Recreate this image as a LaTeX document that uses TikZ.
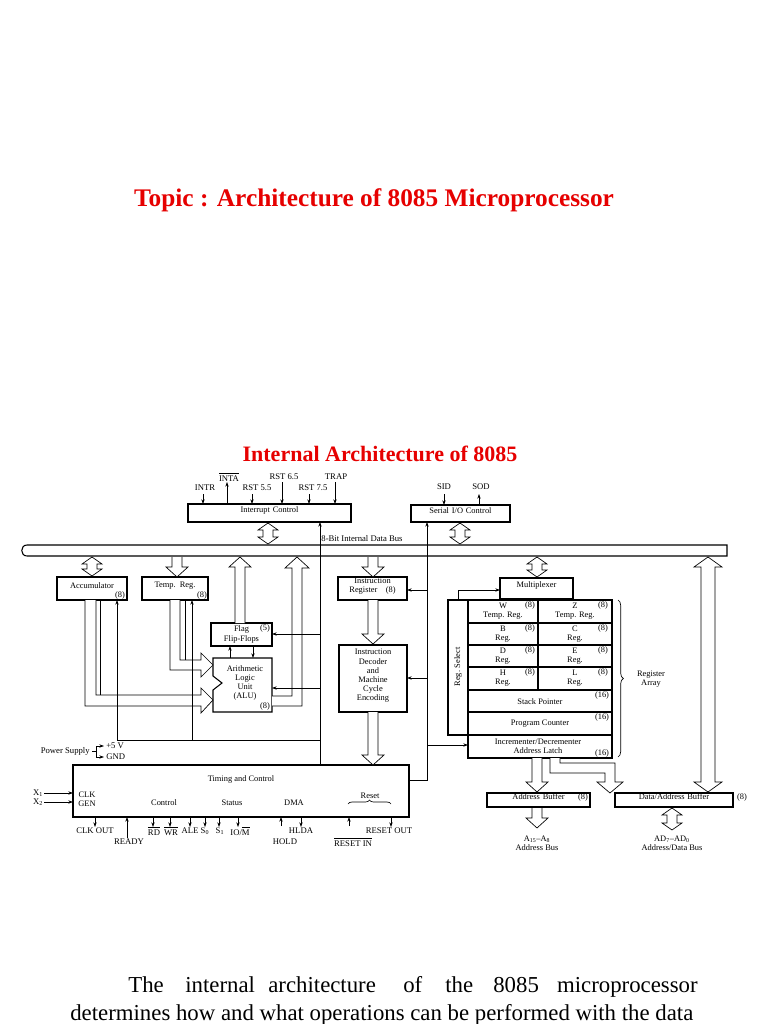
\documentclass[tikz,border=0pt]{standalone}
\usepackage{fontspec}
\setmainfont{Liberation Serif}
\usetikzlibrary{fit,arrows.meta,decorations.pathreplacing}
\definecolor{tred}{RGB}{230,0,0}
\newcommand\HDn[3]{\draw[fill=white] ({#1-5},#2) -- ({#1-5},{#3-10}) -- ({#1-11},{#3-10}) -- (#1,#3) -- ({#1+11},{#3-10}) -- ({#1+5},{#3-10}) -- ({#1+5},#2);}
\newcommand\HUp[3]{\draw[fill=white] ({#1-5},#2) -- ({#1-5},{#3+10}) -- ({#1-11},{#3+10}) -- (#1,#3) -- ({#1+11},{#3+10}) -- ({#1+5},{#3+10}) -- ({#1+5},#2);}
\newcommand\HBi[3]{\draw[fill=white] (#1,#2) -- ({#1+10},{#2+7}) -- ({#1+5},{#2+7}) -- ({#1+5},{#3-7}) -- ({#1+10},{#3-7}) -- (#1,#3) -- ({#1-10},{#3-7}) -- ({#1-5},{#3-7}) -- ({#1-5},{#2+7}) -- ({#1-10},{#2+7}) -- cycle;}
\newcommand\bx[6]{\node[draw,thick,inner sep=0pt,fit={(#2,#3)(#4,#5)},align=center,font=\fontsize{6.3}{6.8}\selectfont] (#1) {#6};}
\begin{document}
\begin{tikzpicture}[x=0.75pt,y=-0.75pt,line width=0.5pt,
  sm/.style={font=\fontsize{6.3}{6.8}\selectfont,inner sep=0pt,align=center},
  lbl/.style={font=\fontsize{6.5}{7.5}\selectfont,inner sep=0pt},
  ar/.style={-{Stealth[length=3.5pt,width=2.5pt]}}]
\useasboundingbox (0,0) rectangle (768,1024);
\clip (0,0) rectangle (768,1024);
\fill[white] (0,0) rectangle (768,1024);
\node[text=tred,font=\fontsize{19}{21}\bfseries\selectfont] (title) at (374,200) {Topic : Architecture of 8085 Microprocessor};
\node[text=tred,font=\fontsize{16.5}{18}\bfseries\selectfont] (sub) at (380,454) {Internal Architecture of 8085};

% bus
\draw[thick,fill=white] (27,545) -- (727,545) -- (727,556) -- (27,556) .. controls (20,556) and (20,545) .. (27,545);
\node[lbl] (buslbl) at (362,539) {8-Bit Internal Data Bus};

% boxes
\bx{ic}{188}{504}{351}{522}{Interrupt Control}
\bx{sio}{411}{505}{510}{522}{Serial I/O Control}
\bx{acc}{57}{577}{127}{600}{Accumulator}
\node[sm] at (120,595) {(8)};
\bx{tmp}{142}{577}{208}{600}{Temp. Reg.}
\node[sm] at (202,595) {(8)};
\node[draw,thick,minimum width=45.75pt,minimum height=17.25pt,inner sep=0pt,sm] (flag) at (241.5,634.5) {Flag\\Flip-Flops};
\node[sm] at (265,628) {(5)};
\draw[thick,fill=white] (213,658) -- (272,658) -- (272,712) -- (213,712) -- (213,690) -- (222,683) -- (213,676) -- cycle;
\node[sm] (alu) at (245,683) {Arithmetic\\Logic\\Unit\\(ALU)};
\node[sm] at (265,706) {(8)};
\bx{ir}{338}{577}{407}{600}{Instruction\\Register\quad(8)}
\bx{id}{339}{645}{407}{712}{Instruction\\Decoder\\and\\Machine\\Cycle\\Encoding}
\bx{mux}{500}{578}{573}{599}{Multiplexer}
% register array
\draw[thick] (448,600) rectangle (468,735);
\node[sm,rotate=90] (rs) at (458,667) {Reg. Select};
\draw[thick] (468,600) rectangle (612,758);
\foreach \y in {623,645,667,690,712,735} \draw[thick] (468,\y) -- (612,\y);
\draw[thick] (538,600) -- (538,690);
\node[sm] (rw) at (503,611.5) {W\\Temp. Reg.};
\node[sm] (rz) at (575,611.5) {Z\\Temp. Reg.};
\node[sm] (rb) at (503,634) {B\\Reg.};
\node[sm] (rc) at (575,634) {C\\Reg.};
\node[sm] (rd) at (503,656) {D\\Reg.};
\node[sm] (re) at (575,656) {E\\Reg.};
\node[sm] (rh) at (503,678.5) {H\\Reg.};
\node[sm] (rl) at (575,678.5) {L\\Reg.};
\foreach \x/\y in {530/605,603/605,530/628,603/628,530/650,603/650,530/672,603/672}
  \node[sm] at (\x,\y) {(8)};
\node[sm] (sp) at (540,702) {Stack Pointer};
\node[sm] (pc) at (540,724) {Program Counter};
\node[sm] (incl) at (538,746) {Incrementer/Decrementer\\Address Latch};
\foreach \y in {695,717,753} \node[sm] at (602,\y) {(16)};
\draw[decorate,decoration={brace,amplitude=4pt}] (618,600) -- (618,757);
\node[sm] (ra) at (651,679) {Register\\Array};
\bx{tc}{73}{765}{409}{817}{}
\node[sm] (tcl) at (241,779) {Timing and Control};
\bx{ab}{487}{793}{590}{807}{Address Buffer}
\node[sm] at (583,797) {(8)};
\bx{dab}{615}{793}{733}{807}{Data/Address Buffer}
\node[sm] at (742,797) {(8)};

% hollow arrows
\HBi{268}{523}{544}
\HBi{460}{523}{544}
\HBi{92}{557}{576}
\HBi{537}{557}{577}
\HDn{177}{557}{577}
\HDn{373}{557}{577}
\HDn{373}{600}{644}
\HDn{373}{712}{765}
\HUp{240}{623}{557}
\draw[fill=white] (170,600) -- (170,670) -- (201,670) -- (201,677) -- (213,665) -- (201,653) -- (201,660) -- (180,660) -- (180,600);
\draw[fill=white] (85,600) -- (85,706) -- (201,706) -- (201,713) -- (213,700) -- (201,688) -- (201,695) -- (96,695) -- (96,600);
\draw[fill=white] (272,706) -- (302,706) -- (302,568) -- (309,568) -- (297,557) -- (285,568) -- (292,568) -- (292,696) -- (272,696);
\draw[fill=white] (701,567) -- (694,567) -- (708,557) -- (722,567) -- (715,567) -- (715,782) -- (722,782) -- (708,792) -- (694,782) -- (701,782) -- cycle;
\HDn{537}{758}{792}
\draw[fill=white] (550,758) -- (550,773) -- (605,773) -- (605,782) -- (597,782) -- (610,793) -- (623,782) -- (615,782) -- (615,763) -- (560,763) -- (560,758);
\HDn{537}{808}{828}
\HBi{672}{808}{830}
\node[sm] (abus) at (537,843) {A\textsubscript{15}--A\textsubscript{8}\\Address Bus};
\node[sm] (dbus) at (672,843) {AD\textsubscript{7}--AD\textsubscript{0}\\Address/Data Bus};

% thin control lines
\draw[ar] (320,765) -- (320,522);
\draw[ar] (320,634) -- (272,634);
\draw[ar] (320,688) -- (272,688);
\draw[ar] (409,780) -- (427,780) -- (427,522);
\draw[ar] (427,590) -- (407,590);
\draw[ar] (427,678) -- (407,678);
\draw[ar] (427,745) -- (468,745);
\draw[ar] (458,590) -- (500,590);
\draw (458,590) -- (458,600);
\draw[ar] (117,740) -- (117,600);
\draw (117,740) -- (320,740);
\draw[ar] (192,740) -- (192,600);
\draw (185,600) -- (185,660);
\draw[ar] (230,658) -- (230,646);
\draw[ar] (253,646) -- (253,658);
\draw (100,600) -- (100,695);

% interrupt signals
\foreach \x in {203,252,309} \draw[ar] (\x,494) -- (\x,504);
\foreach \x in {282,335} \draw[ar] (\x,482) -- (\x,504);
\draw[ar] (227,504) -- (227,482);
\node[lbl] (intr) at (205,488) {INTR};
\node[lbl] (inta) at (229,477) {$\overline{\hbox{INTA}}$};
\node[lbl] (r55) at (257,488) {RST 5.5};
\node[lbl] (r65) at (284,477) {RST 6.5};
\node[lbl] (r75) at (313,488) {RST 7.5};
\node[lbl] (trap) at (336,477) {TRAP};
\draw[ar] (444,494) -- (444,505);
\draw[ar] (479,505) -- (479,494);
\node[lbl] (sid) at (444,487) {SID};
\node[lbl] (sod) at (481,487) {SOD};

% power, clock
\node[lbl,anchor=east] (ps) at (90,751) {Power Supply};
\draw (92,751) -- (96,751) (96,746) -- (96,757);
\draw[ar] (96,746) -- (104,746);
\draw[ar] (96,757) -- (104,757);
\node[lbl,anchor=west] (p5) at (106,746) {+5 V};
\node[lbl,anchor=west] (gnd) at (106,757) {GND};
\node[lbl] (x1) at (38,793) {X\textsubscript{1}};
\node[lbl] (x2) at (38,802) {X\textsubscript{2}};
\draw[ar] (44,793) -- (73,793);
\draw[ar] (44,802) -- (73,802);
\node[sm,anchor=west] (clkgen) at (78,799) {CLK\\GEN};
\node[sm] (ctl) at (164,803) {Control};
\node[sm] (sta) at (232,803) {Status};
\node[sm] (dma) at (294,803) {DMA};
\node[sm] (rst) at (370,796) {Reset};
\draw[decorate,decoration={brace,amplitude=3pt}] (348,804) -- (391,804);

% timing signals
\foreach \x in {95,153,170,190,205,219,238,301,391} \draw[ar] (\x,817) -- (\x,827);
\foreach \x/\b in {127/838,281/826,349/826} \draw[ar] (\x,\b) -- (\x,817);
\node[lbl] (clko) at (95,831) {CLK OUT};
\node[lbl] (rd) at (154,831) {$\overline{\hbox{RD}}$};
\node[lbl] (wr) at (171,831) {$\overline{\hbox{WR}}$};
\node[lbl] (ale) at (190,831) {ALE};
\node[lbl] (s0) at (205,831) {S\textsubscript{0}};
\node[lbl] (s1) at (220,831) {S\textsubscript{1}};
\node[lbl] (iom) at (240,831) {IO/$\overline{\hbox{M}}$};
\node[lbl] (hlda) at (301,831) {HLDA};
\node[lbl] (rso) at (389,831) {RESET OUT};
\node[lbl] (rdy) at (129,842) {READY};
\node[lbl] (hold) at (285,842) {HOLD};
\node[lbl] (rsi) at (353,842) {$\overline{\hbox{RESET IN}}$};

% body text
\begin{scope}[every node/.style={font=\fontsize{17.1}{20}\selectfont,inner sep=0pt,anchor=base west}]
\node (w1) at (128,992) {The};
\node (w2) at (185,992) {internal};
\node (w3) at (268,992) {architecture};
\node (w4) at (403,992) {of};
\node (w5) at (445,992) {the};
\node (w6) at (493,992) {8085};
\node[anchor=base east] (w7) at (698,992) {microprocessor};
\node (l2) at (70,1020) {determines how and what operations can be performed with the data};
\end{scope}
\end{tikzpicture}
\end{document}
